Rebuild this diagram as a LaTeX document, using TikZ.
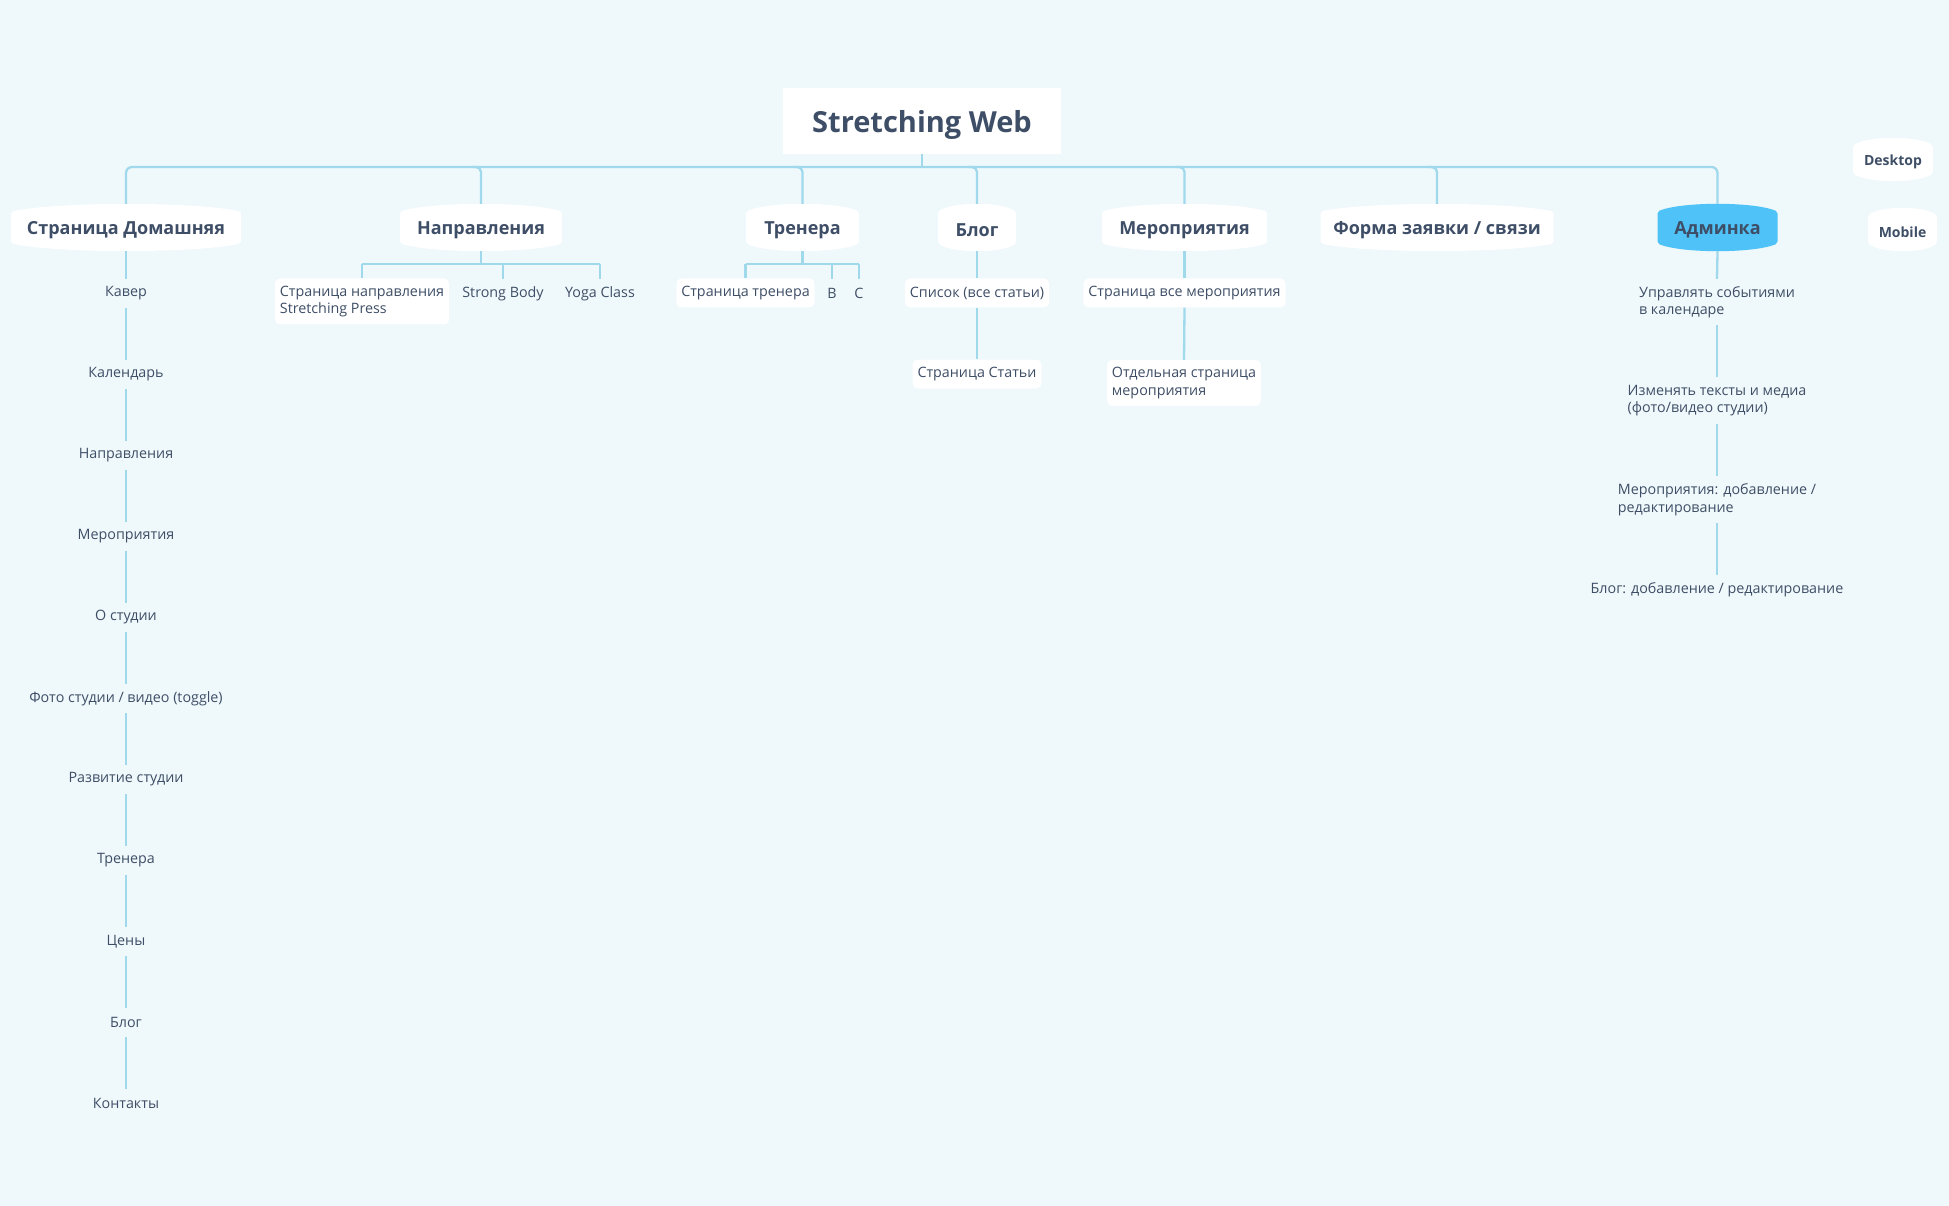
\documentclass[tikz,border=0pt]{standalone}
\usepackage{fontspec}
\setmainfont{Open Sans}
\usetikzlibrary{calc}
\definecolor{bg}{RGB}{239,248,251}
\definecolor{ln}{RGB}{160,217,236}
\definecolor{tx}{RGB}{62,78,102}
\definecolor{adm}{RGB}{79,195,247}
\tikzset{
  conn/.style={draw=ln, line width=2.3pt},
  leaf/.style={text=tx, font=\fontsize{14.3}{17.5}\selectfont, inner xsep=5pt, inner ysep=0pt, minimum height=29pt, align=left, yshift=-1.5pt},
  leaftwo/.style={leaf, minimum height=46pt},
  boxed/.style={fill=white, rounded corners=5pt},
  branchtext/.style={text=tx, inner sep=0pt},
}
\newcommand\lowertext[2]{\raisebox{-#1}[\height][\depth]{#2}}
% name, cx, cy, width, height, fill, font size, text
\newcommand\branchnode[8]{%
  \pgfmathsetmacro\xa{#2-#4/2}\pgfmathsetmacro\xb{#2+#4/2}%
  \pgfmathsetmacro\ca{#2-#4/2+0.2*#4}\pgfmathsetmacro\cb{#2+#4/2-0.2*#4}%
  \pgfmathsetmacro\ya{#3-#5/2+7.5}\pgfmathsetmacro\yb{#3+#5/2-7.5}%
  \pgfmathsetmacro\yt{#3-#5/2-2.5}\pgfmathsetmacro\ybb{#3+#5/2+2.5}%
  \fill[#6, rounded corners=2pt] (\xa,\ya) .. controls (\ca,\yt) and (\cb,\yt) .. (\xb,\ya) -- (\xb,\yb) .. controls (\cb,\ybb) and (\ca,\ybb) .. (\xa,\yb) -- cycle;
  \node[branchtext, minimum width=#4pt, minimum height=#5pt, font=\fontsize{#7}{#7}\selectfont\bfseries] (#1) at (#2,#3) {\lowertext{2.5pt}{#8}};
}
\begin{document}
\begin{tikzpicture}[x=1pt, y=-1pt]
\fill[bg] (0,0) rectangle (1949,1206);
\useasboundingbox (0,0) rectangle (1949,1206);

% root
\node[fill=white, text=tx, minimum width=278pt, minimum height=66pt, inner sep=0pt,
      font=\fontsize{29}{29}\selectfont\bfseries] (root) at (922,121) {\lowertext{3.5pt}{Stretching Web}};

% branches
\branchnode{home}{126}{227.5}{230}{47}{white}{18}{Страница Домашняя}
\branchnode{dir}{481}{227.5}{162}{47}{white}{18}{Направления}
\branchnode{tr}{802.5}{227.5}{113}{47}{white}{18}{Тренера}
\branchnode{blog}{977}{227.5}{78}{47}{white}{18}{Блог}
\branchnode{ev}{1184.5}{227.5}{165}{47}{white}{18}{Мероприятия}
\branchnode{form}{1437}{227.5}{233}{47}{white}{18}{Форма заявки / связи}
\branchnode{adm}{1717.5}{227.5}{120}{47}{adm}{18}{Админка}
\branchnode{desk}{1893}{159.5}{80}{43}{white}{14}{Desktop}
\branchnode{mob}{1902.5}{229.5}{69}{43}{white}{14}{Mobile}

\coordinate (bus) at (0,167);
\coordinate (dirbus) at (0,264);

% main bus
\draw[conn, rounded corners=6pt] (home.north) -- (home.north |- bus) -- (adm.north |- bus) -- (adm.north);
\draw[conn] (root.south) -- (root.south |- bus);
\foreach \n in {dir,tr,blog,ev,form}{
  \draw[conn, rounded corners=5pt] ($(\n.north |- bus)+(-9,0)$) -- (\n.north |- bus) -- (\n.north);
}

% home column
\foreach \t [count=\i from 0] in {Кавер,Календарь,Направления,Мероприятия,О студии,Фото студии / видео (toggle),Развитие студии,Тренера,Цены,Блог,Контакты}{
  \node[leaf] (h\i) at (126,{292+81*\i}) {\t};
}
\draw[conn] (home.south) -- (h0.north);
\foreach \i [evaluate=\i as \j using int(\i+1)] in {0,...,9}{
  \draw[conn] (h\i.south) -- (h\j.north);
}

% directions
\node[leaftwo, boxed] (d1) at (362,300) {Страница направления\\Stretching Press};
\node[leaf] (d2) at (503,292) {Strong Body};
\node[leaf] (d3) at (600,292) {Yoga Class};
\draw[conn] (dir.south) -- (dir.south |- dirbus);
\draw[conn] (d1.north |- dirbus) -- (d3.north |- dirbus);
\foreach \n in {d1,d2,d3}{ \draw[conn] (\n.north |- dirbus) -- (\n.north); }

% trainers
\node[leaf, boxed] (t1) at (745.5,291.5) {Страница тренера};
\node[leaf] (t2) at (832,292) {B};
\node[leaf] (t3) at (859,292) {C};
\draw[conn] (tr.south) -- (tr.south |- dirbus);
\draw[conn] (t1.north |- dirbus) -- (t3.north |- dirbus);
\foreach \n in {t1,t2,t3}{ \draw[conn] (\n.north |- dirbus) -- (\n.north); }

% blog
\node[leaf, boxed] (b1) at (977,291.5) {Список (все статьи)};
\node[leaf, boxed] (b2) at (977,372.5) {Страница Статьи};
\draw[conn] (blog.south) -- (b1.north);
\draw[conn] (b1.south) -- (b2.north);

% events
\node[leaf, boxed] (e1) at (1184.5,291.5) {Страница все мероприятия};
\node[leaftwo, boxed] (e2) at (1184,381.5) {Отдельная страница\\мероприятия};
\draw[conn] (ev.south) -- (e1.north);
\draw[conn] (e1.south) -- (e2.north);

% admin
\node[leaftwo] (a1) at (1717,300.5) {Управлять событиями\\в календаре};
\node[leaftwo] (a2) at (1717,399) {Изменять тексты и медиа\\(фото/видео студии)};
\node[leaftwo] (a3) at (1717,498) {Мероприятия: добавление /\\редактирование};
\node[leaf] (a4) at (1717,588) {Блог: добавление / редактирование};
\draw[conn] (adm.south) -- (a1.north);
\draw[conn] (a1.south) -- (a2.north);
\draw[conn] (a2.south) -- (a3.north);
\draw[conn] (a3.south) -- (a4.north);
\end{tikzpicture}
\end{document}
